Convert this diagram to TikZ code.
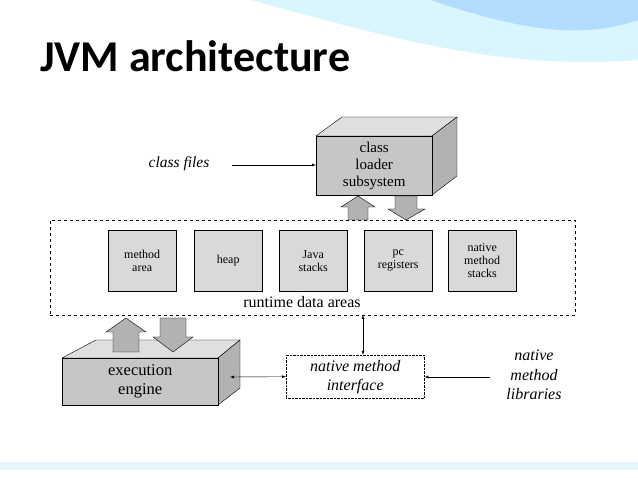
\documentclass[tikz,border=0pt]{standalone}
\usepackage{fontspec}
\setmainfont{Liberation Serif}
\newfontfamily\titlefont{Carlito}
\begin{document}
\begin{tikzpicture}[x=1pt,y=-1pt,
  small/.style={draw,fill=gray!30,minimum width=68pt,minimum height=61pt,anchor=north west,align=center,font=\fontsize{12}{13}\selectfont},
  blk/.style={draw,fill=gray!60},
  arr/.style={->,>=latex}]
\useasboundingbox (0,0) rectangle (638,478);
\fill[white] (0,0) rectangle (638,478);
% background decoration
\fill[blue!25!cyan!15] (250,0) .. controls (400,40) and (500,70) .. (638,60) -- (638,0) -- cycle;
\fill[blue!45!cyan!30] (430,0) .. controls (520,30) and (580,40) .. (638,20) -- (638,0) -- cycle;
\fill[cyan!10] (0,462) rectangle (638,470);
\node[anchor=base west,font=\titlefont\bfseries\fontsize{44}{48}\selectfont,inner sep=0pt] (title) at (40,72) {JVM architecture};
% class loader
\fill[gray!25,draw=black] (316,136) -- (342,117) -- (457,117) -- (432,136) -- cycle;
\fill[gray!60,draw=black] (432,136) -- (457,117) -- (457,176) -- (432,195) -- cycle;
\node[draw,fill=gray!45,minimum width=116pt,minimum height=59pt,anchor=north west,align=center,font=\fontsize{15}{17}\selectfont] (cl) at (316,136) {class\\loader\\subsystem};
\node[font=\itshape\fontsize{15.5}{17}\selectfont] (cf) at (179,164) {class files};
\coordinate (cfe) at (232,165);
\draw[arr] (cfe) -- (cl.west|-cfe);
% block arrows under class loader
\draw[blk] (348,220) -- (348,207) -- (341,207) -- (358,196) -- (375,207) -- (368,207) -- (368,220) -- cycle;
\draw[blk] (395,196) -- (395,209) -- (388,209) -- (406,220) -- (425,209) -- (417,209) -- (417,196) -- cycle;
% runtime data area
\node[draw,dashed,minimum width=525pt,minimum height=95pt,anchor=north west] (rt) at (50,220) {};
\node[small] (m) at (108,230) {method\\area};
\node[small] (h) at (194,230) {heap};
\node[small] (j) at (279,230) {Java\\stacks};
\node[small] (p) at (364,230) {pc\\registers};
\node[small] (n) at (448,230) {native\\method\\stacks};
\node[font=\fontsize{16}{18}\selectfont] (rtl) at (302,302) {runtime data areas};
% execution engine
\fill[gray!25,draw=black] (62,358) -- (96,340) -- (240,340) -- (218,358) -- cycle;
\fill[gray!60,draw=black] (218,358) -- (240,340) -- (240,388) -- (218,405) -- cycle;
\node[draw,fill=gray!45,minimum width=156pt,minimum height=47pt,anchor=north west,font=\fontsize{16.5}{19}\selectfont,align=center] (ee) at (62,358) {execution\\engine};
\draw[blk] (113,352) -- (113,332) -- (106,332) -- (126,318) -- (146,332) -- (139,332) -- (139,352) -- cycle;
\draw[blk] (160,318) -- (160,337) -- (153,337) -- (173,352) -- (193,337) -- (186,337) -- (186,318) -- cycle;
% native method interface
\node[draw,densely dotted,minimum width=138pt,minimum height=43pt,anchor=north west,font=\itshape\fontsize{16}{19}\selectfont,align=center] (nmi) at (286,355) {native method\\interface};
\coordinate (eer) at (230,377);
\draw[<->,>=latex] (eer) -- (nmi.west);
\coordinate (rtb) at (363,315);
\draw[<->,>=latex] (rtb) -- (rtb|-nmi.north);
\node[font=\itshape\fontsize{16}{19.5}\selectfont,align=center] (lib) at (534,375) {native\\method\\libraries};
\coordinate (libw) at (490,377);
\draw[arr] (libw) -- (nmi.east|-libw);
\end{tikzpicture}
\end{document}
